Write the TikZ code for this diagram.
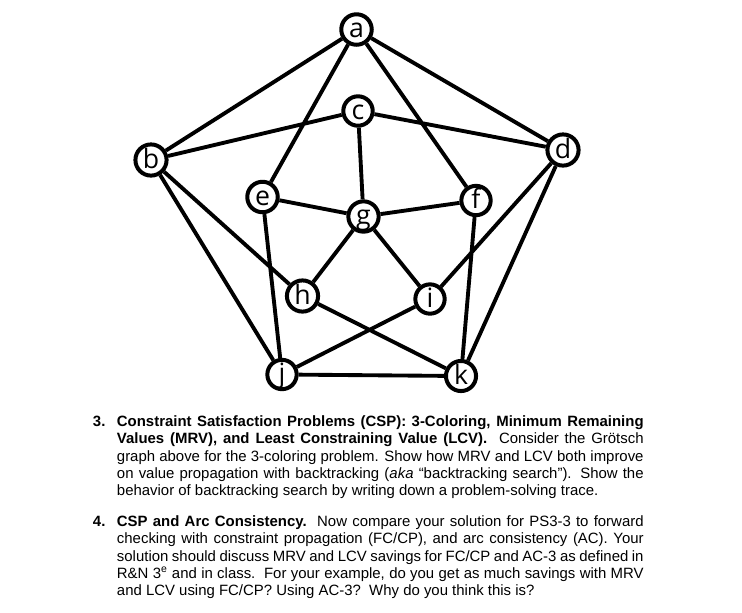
\documentclass[tikz,border=0pt]{standalone}
\usepackage{fontspec}
\setmainfont{Liberation Sans}
\newfontfamily\vertexfont{Open Sans}
\usepackage{tikz}

\begin{document}
\begin{tikzpicture}[x=0.75pt, y=-0.75pt,
    vertex/.style={circle, draw, fill=white, line width=3pt, minimum size=22pt, inner sep=0pt,
      font=\vertexfont\fontsize{20}{20}\selectfont, text height=16pt, text depth=4pt},
    edge/.style={line width=2.9pt},
    qnum/.style={anchor=base west, inner sep=0pt, font=\fontsize{11.2}{12.86}\selectfont\bfseries},
    qtext/.style={anchor=base west, inner sep=0pt, text width=395pt, align=justify,
      font=\fontsize{11.2}{12.86}\selectfont}]
  \path[use as bounding box, fill=white] (0,0) rectangle (742,612);

  % Groetzsch graph
  \node[vertex] (a) at (356.5, 29.5) {a};
  \node[vertex] (b) at (151, 160) {b};
  \node[vertex] (c) at (358, 111) {c};
  \node[vertex] (d) at (563, 150) {d};
  \node[vertex] (e) at (262.5, 197) {e};
  \node[vertex] (f) at (476, 200.5) {f};
  \node[vertex] (g) at (363.5, 216.5) {g};
  \node[vertex] (h) at (302.5, 296) {h};
  \node[vertex] (i) at (430, 299) {i};
  \node[vertex] (j) at (282, 374.5) {j};
  \node[vertex] (k) at (461, 376) {k};

  \draw[edge] (a) -- (b) (a) -- (d) (a) -- (e) (a) -- (f)
    (b) -- (c) (c) -- (d) (c) -- (g)
    (b) -- (j) (b) -- (h) (d) -- (i) (d) -- (k)
    (e) -- (g) (f) -- (g) (g) -- (h) (g) -- (i)
    (e) -- (j) (f) -- (k) (h) -- (k) (i) -- (j) (j) -- (k);

  % questions
  \node[qnum] (n3) at (92.7, 426.7) {3.};
  \node[qtext] (q3) at (116.7, 426.7) {\textbf{Constraint Satisfaction Problems (CSP): 3-Coloring, Minimum Remaining}\linebreak
    \textbf{Values (MRV), and Least Constraining Value (LCV).}\ \ Consider the Grötsch\linebreak
    graph above for the 3-coloring problem. Show how MRV and LCV both improve\linebreak
    on value propagation with backtracking (\textit{aka} “backtracking search”). Show the\linebreak
    behavior of backtracking search by writing down a problem-solving trace.};
  \node[qnum] (n4) at (92.7, 526.7) {4.};
  \node[qtext] (q4) at (116.7, 526.7) {\textbf{CSP and Arc Consistency.}\ \ Now compare your solution for PS3-3 to forward\linebreak
    checking with constraint propagation (FC/CP), and arc consistency (AC). Your\linebreak
    solution should discuss MRV and LCV savings for FC/CP and AC-3 as defined in\linebreak
    R\&N 3\textsuperscript{e} and in class.\ \ For your example, do you get as much savings with MRV\linebreak
    and LCV using FC/CP? Using AC-3?\ \ Why do you think this is?};
\end{tikzpicture}
\end{document}
